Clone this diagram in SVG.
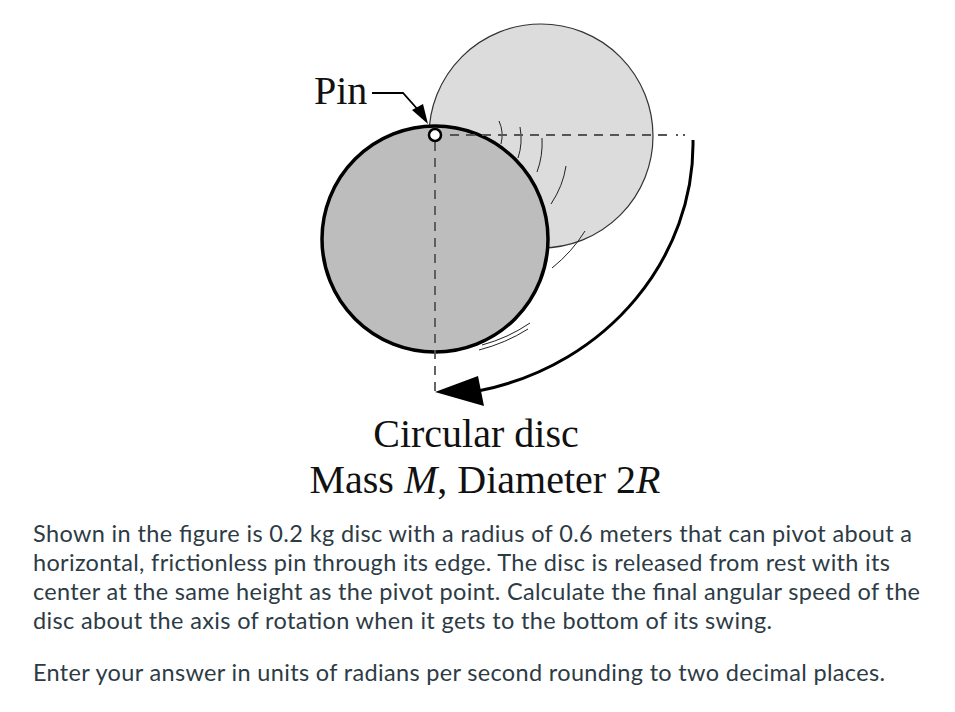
<svg xmlns="http://www.w3.org/2000/svg" width="955" height="712" viewBox="0 0 955 712">
<style>
.serif{font-family:"Liberation Serif","Times New Roman",serif;font-size:40px;fill:#111}
.body{font-family:Lato,"Open Sans",sans-serif;font-size:23.5px;fill:#2d3b45}
.dash{stroke:#555;stroke-width:1.8;stroke-dasharray:9,7;fill:none}
.trace{stroke:#222;stroke-width:1;fill:none}
</style>
<rect width="955" height="712" fill="#fff"/>
<g id="light-disc"><circle cx="541" cy="136" r="112" fill="#dcdcdc" stroke="#333" stroke-width="1.2"/></g>
<g id="traces">
<path class="trace" d="M499,121 Q504,132 501,144"/>
<path class="trace" d="M520,127 Q523,143 518,158"/>
<path class="trace" d="M542,138 Q543,156 537,172"/>
<path class="trace" d="M566,166 Q563,186 551,204"/>
<path class="trace" d="M585,231 Q572,252 552,268"/>
<path class="trace" d="M530,323 Q508,338 482,345"/>
<path class="trace" d="M528,329 Q506,343 479,350"/>
</g>
<g id="dark-disc"><circle cx="435" cy="239" r="113" fill="#bdbdbd" stroke="#000" stroke-width="3.5"/></g>
<g id="connectors">
<path class="dash" d="M450,135 H670"/>
<path d="M676,135 H690" stroke="#555" stroke-width="1.8" stroke-dasharray="2,5"/>
<path class="dash" d="M435,142 V392"/>
<path d="M693,140 C695,255 610,365 478,391" fill="none" stroke="#000" stroke-width="3"/>
<polygon points="435,392 478,376 484,406" fill="#000"/>
<path d="M372,93 H403 L420,112" fill="none" stroke="#000" stroke-width="1.8"/>
<polygon points="428,124 412,110 423,104" fill="#000"/>
</g>
<g id="pin"><circle cx="435" cy="135" r="6" fill="#fff" stroke="#000" stroke-width="2.5"/></g>
<text class="serif" x="314" y="104">Pin</text>
<text class="serif" x="476" y="447" text-anchor="middle">Circular disc</text>
<text class="serif" x="485" y="493" text-anchor="middle">Mass <tspan font-style="italic">M</tspan>, Diameter 2<tspan font-style="italic">R</tspan></text>
<g class="body">
<text x="33" y="542" textLength="879" lengthAdjust="spacing">Shown in the figure is 0.2 kg disc with a radius of 0.6 meters that can pivot about a</text>
<text x="33" y="571" textLength="857" lengthAdjust="spacing">horizontal, frictionless pin through its edge. The disc is released from rest with its</text>
<text x="33" y="600" textLength="887" lengthAdjust="spacing">center at the same height as the pivot point. Calculate the final angular speed of the</text>
<text x="33" y="629" textLength="739" lengthAdjust="spacing">disc about the axis of rotation when it gets to the bottom of its swing.</text>
<text x="33" y="681" textLength="852" lengthAdjust="spacing">Enter your answer in units of radians per second rounding to two decimal places.</text>
</g>
</svg>
